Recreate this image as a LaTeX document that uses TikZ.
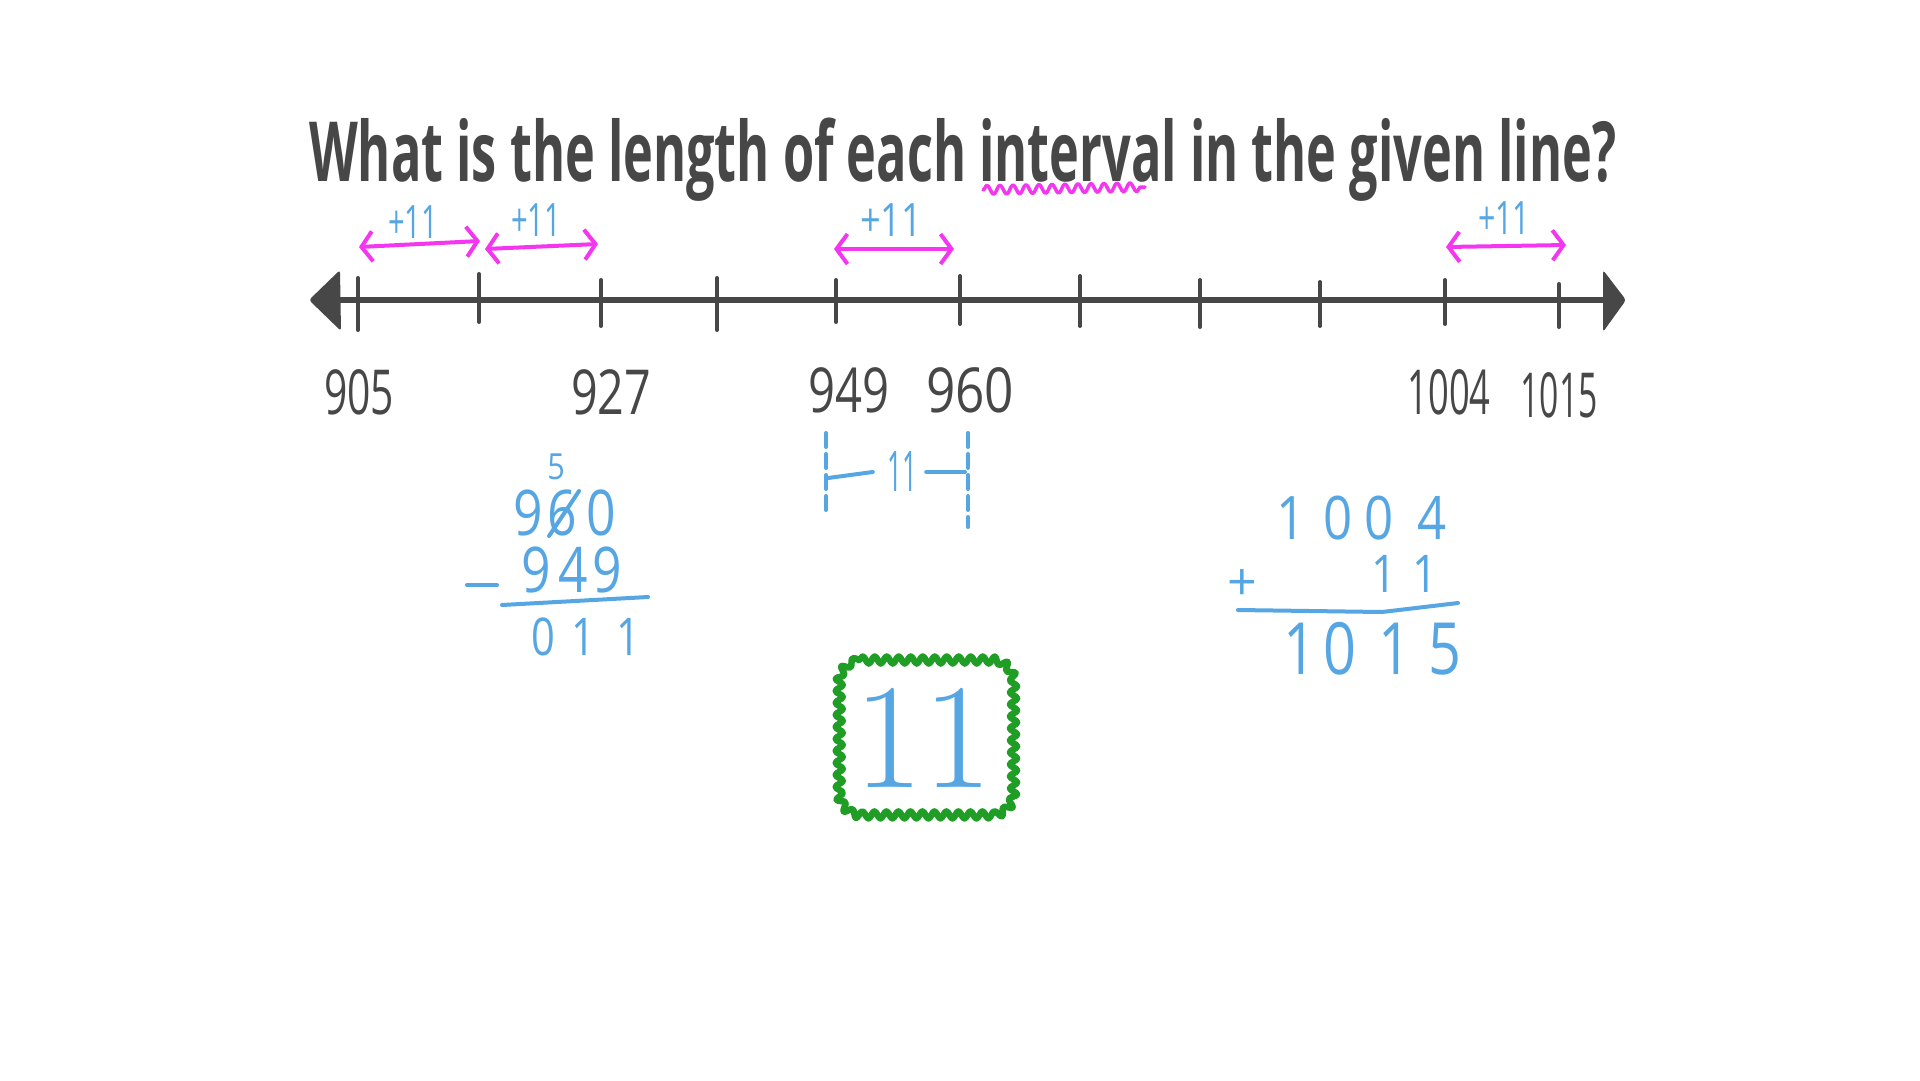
\documentclass[tikz,border=0pt]{standalone}
\usepackage{fontspec}
\usepackage{graphicx}
\usetikzlibrary{arrows.meta,decorations.pathmorphing}
\newfontfamily\hand{Open Sans}
\definecolor{ink}{HTML}{474747}
\definecolor{mag}{HTML}{F536F0}
\definecolor{blu}{HTML}{55A6E2}
\definecolor{grn}{HTML}{1F9D25}
\newcommand{\hw}[3]{\resizebox{#1pt}{\height}{\fontsize{#2}{#2}\selectfont #3}}
\newcommand{\nw}[3]{\scalebox{#1}[1]{\fontsize{#2}{#2}\selectfont #3}}
\tikzset{
  lbl/.style={inner sep=0pt, text=ink, font=\hand},
  bd/.style={inner sep=0pt, text=blu, font=\hand},
  tick/.style={ink, line width=4pt, line cap=round},
  jump/.style={mag, line width=4pt, line cap=round, line join=round,
     {Straight Barb[length=11pt,width=30pt,line width=4pt]}-{Straight Barb[length=11pt,width=30pt,line width=4pt]}},
  bl/.style={blu, line width=4pt, line cap=round},
}
\begin{document}
\begin{tikzpicture}[x=1pt,y=-1pt]
\useasboundingbox (0,0) rectangle (1920,1080);
\fill[white] (0,0) rectangle (1920,1080);

% title
\node[lbl, anchor=base west] (title) at (309,181)
  {\hw{1307}{83}{\bfseries What is the length of each interval in the given line?}};
\draw[mag, line width=3.5pt, line cap=round, line join=round, decorate,
  decoration={snake, amplitude=4.5pt, segment length=13pt}] (983,190) -- (1145,187);

% number line
\coordinate (L) at (332,300);
\coordinate (R) at (1605,300);
\draw[ink, line width=6pt] (L) -- (R);
\fill[ink, rounded corners=3pt] (309,300) -- (340,270) -- (341,331) -- cycle;
\fill[ink, rounded corners=3pt] (1626,300) -- (1603,270) -- (1603,332) -- cycle;
\foreach \x/\a/\b in {358/278/330, 479/274/322, 601/280/326, 717/278/330, 836/280/322,
  960/276/324, 1080/276/326, 1200/280/327, 1320/282/326, 1445/280/324, 1559/284/327}
  \draw[tick] (\x,\a) -- (\x,\b);

% labels
\node[lbl] (n905) at (359,392) {\hw{70}{62}{905}};
\node[lbl] (n927) at (611,392) {\hw{80}{62}{927}};
\node[lbl] (n949) at (849,390) {\hw{81}{62}{949}};
\node[lbl] (n960) at (970,390) {\hw{88}{62}{960}};
\node[lbl] (n1004) at (1449,392) {\hw{83}{62}{1004}};
\node[lbl] (n1015) at (1559,395) {\hw{77}{62}{1015}};

% jumps
\coordinate (a1) at (359,247); \coordinate (b1) at (480,241);
\coordinate (a2) at (485,249); \coordinate (b2) at (598,244);
\coordinate (a3) at (834,249); \coordinate (b3) at (954,249);
\coordinate (a4) at (1446,247); \coordinate (b4) at (1566,245);
\draw[jump] (a1) -- (b1);
\draw[jump] (a2) -- (b2);
\draw[jump] (a3) -- (b3);
\draw[jump] (a4) -- (b4);
\node[bd] (p1) at (413,222) {\hw{50}{46}{+11}};
\node[bd] (p2) at (536,220) {\hw{50}{46}{+11}};
\node[bd] (p3) at (891,220) {\hw{62}{46}{+11}};
\node[bd] (p4) at (1504,218) {\hw{52}{46}{+11}};

% subtraction
\node[bd] (s5) at (556,467) {\nw{0.85}{36}{5}};
\node[bd] (s9) at (528,513) {\nw{0.82}{63}{9}};
\node[bd] (s6) at (562,513) {\nw{0.82}{63}{6}};
\node[bd] (s0) at (601,513) {\nw{0.82}{63}{0}};
\draw[bl] (549,536) -- (579,491);
\node[bd] (t9) at (536,570) {\nw{0.82}{63}{9}};
\node[bd] (t4) at (573,570) {\nw{0.82}{63}{4}};
\node[bd] (t9b) at (607,570) {\nw{0.82}{63}{9}};
\draw[bl] (467,585) -- (497,585);
\draw[bl] (502,605) -- (648,597);
\node[bd] (r0) at (543,637) {\nw{0.8}{52}{0}};
\node[bd] (r1) at (583,637) {\nw{0.8}{52}{1}};
\node[bd] (r1b) at (628,637) {\nw{0.8}{52}{1}};

% bracket
\draw[bl, dash pattern=on 14pt off 7pt] (826,433) -- (826,517);
\draw[bl, dash pattern=on 14pt off 7pt] (968,433) -- (968,527);
\node[bd] (d11) at (902,472) {\hw{30}{56}{11}};
\draw[bl] (828,478) -- ([xshift=-14pt]d11.west);
\draw[bl] ([xshift=9pt]d11.east) -- (965,472);

% addition
\node[bd] (u1) at (1291,518) {\nw{0.85}{60}{1}};
\node[bd] (u0) at (1338,518) {\nw{0.85}{60}{0}};
\node[bd] (u0b) at (1379,518) {\nw{0.85}{60}{0}};
\node[bd] (u4) at (1432,518) {\nw{0.85}{60}{4}};
\node[bd] (v1) at (1384,574) {\nw{0.85}{52}{1}};
\node[bd] (v1b) at (1425,574) {\nw{0.85}{52}{1}};
\node[bd] (plus) at (1242,585) {\fontsize{52}{52}\selectfont +};
\draw[bl] (1238,610) -- (1382,612) -- (1458,603);
\node[bd] (w1) at (1300,649) {\nw{0.8}{72}{1}};
\node[bd] (w0) at (1340,649) {\nw{0.8}{72}{0}};
\node[bd] (w1b) at (1395,649) {\nw{0.8}{72}{1}};
\node[bd] (w5) at (1445,649) {\nw{0.8}{72}{5}};

% answer
\node[inner sep=0pt, text=blu] (ans) at (923,738) {\fontsize{150}{150}\selectfont 11};
\draw[grn, line width=6.5pt, line cap=round, line join=round, decorate,
  decoration={snake, amplitude=3.5pt, segment length=12pt}]
  (859,660) -- (989,660) arc[start angle=90, end angle=0, radius=22pt]
  -- (1011,793) arc[start angle=0, end angle=-90, radius=22pt]
  -- (859,815) arc[start angle=-90, end angle=-180, radius=22pt]
  -- (837,682) arc[start angle=180, end angle=90, radius=22pt] -- cycle;
\end{tikzpicture}
\end{document}
